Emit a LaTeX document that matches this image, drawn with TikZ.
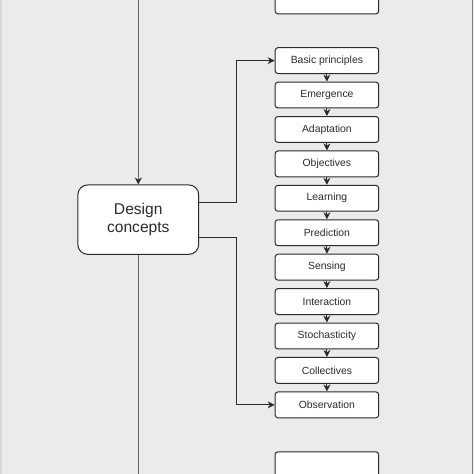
\documentclass[tikz,border=0pt]{standalone}
\usepackage{fontspec}
\setmainfont{Liberation Sans}
\usetikzlibrary{arrows.meta}
\definecolor{panel}{HTML}{EBEBEB}
\definecolor{edge}{HTML}{2B2B2B}
\tikzset{
	concept/.style={align=center, draw=edge, fill=white, rounded corners=3.5mm, minimum width=4.25cm, minimum height=2.44cm, line width=1pt, inner sep=0pt, font=\fontsize{15.6}{18.5}\selectfont, text=edge},
	element/.style={draw=edge, fill=white, rounded corners=1mm, minimum width=3.64cm, minimum height=0.91cm, line width=1pt, inner sep=0pt, font=\fontsize{10.4}{12}\selectfont, text=edge},
	link/.style={-{Stealth[length=7pt,width=7pt]}, draw=edge, line width=0.9pt},
	spine/.style={draw=black!60, line width=1.2pt}
}
\begin{document}
\begin{tikzpicture}
		\useasboundingbox (0,0) rectangle (16.66,16.66);
		\clip (0,0) rectangle (16.66,16.66);

		\fill[panel] (0,0) rectangle (16.66,16.66);
		\fill[black!15] (0,0) rectangle (0.07,16.66);
		\draw[black!50, line width=1.2pt] (16.62,0) -- (16.62,16.66);

		\coordinate (spinetop) at (4.86,16.66);
		\coordinate (spinebottom) at (4.86,0);

		\node[concept] (design) at (4.86,8.94) {Design\\concepts};

		\draw[spine, -{Stealth[length=7pt,width=7pt,color=edge]}] (spinetop) -- (design.north);
		\draw[spine] (design.south) -- (spinebottom);

		\node[element, minimum height=1.6cm] (before) at (11.49,16.97) {};
		\node[element, minimum height=1.6cm] (after) at (11.49,-0.02) {};

		\node[element] (basic) at (11.49,14.53) {Basic principles};
		\node[element] (emergence) at (11.49,13.32) {Emergence};
		\node[element] (adaptation) at (11.49,12.11) {Adaptation};
		\node[element] (objectives) at (11.49,10.90) {Objectives};
		\node[element] (learning) at (11.49,9.69) {Learning};
		\node[element] (prediction) at (11.49,8.48) {Prediction};
		\node[element] (sensing) at (11.49,7.27) {Sensing};
		\node[element] (interaction) at (11.49,6.06) {Interaction};
		\node[element] (stochasticity) at (11.49,4.85) {Stochasticity};
		\node[element] (collectives) at (11.49,3.64) {Collectives};
		\node[element] (observation) at (11.49,2.43) {Observation};

		\draw[link] (basic) -- (emergence);
		\draw[link] (emergence) -- (adaptation);
		\draw[link] (adaptation) -- (objectives);
		\draw[link] (objectives) -- (learning);
		\draw[link] (learning) -- (prediction);
		\draw[link] (prediction) -- (sensing);
		\draw[link] (sensing) -- (interaction);
		\draw[link] (interaction) -- (stochasticity);
		\draw[link] (stochasticity) -- (collectives);
		\draw[link] (collectives) -- (observation);

		\draw[link] ([yshift=0.61cm]design.east) -| ([xshift=-1.35cm]basic.west) -- (basic.west);
		\draw[link] ([yshift=-0.61cm]design.east) -| ([xshift=-1.35cm]observation.west) -- (observation.west);

	\end{tikzpicture}
\end{document}
